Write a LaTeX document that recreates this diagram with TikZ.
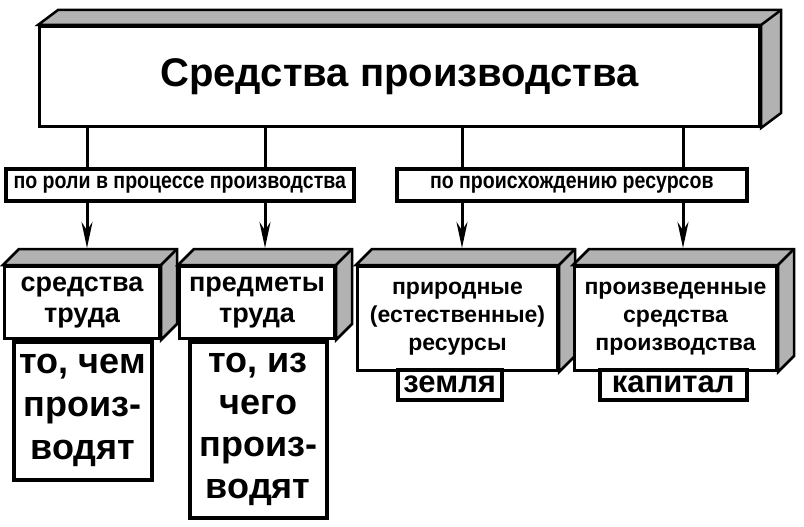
\documentclass[tikz,border=0pt]{standalone}
\usepackage{fontspec}
\setmainfont{Liberation Sans}
\usetikzlibrary{arrows.meta}
\tikzset{
		% front faces, labels and the 3d sides
		front box/.style={draw,line width=3pt,fill=white,inner sep=0pt,font=\bfseries},
		label box/.style={draw,line width=3.5pt,fill=white,inner sep=0pt},
		side face/.style={draw,line width=2.5pt,fill=gray!60,line join=miter},
		down arrow/.style={line width=3pt,-{Stealth[length=26pt,width=11pt]}}
	}
\newcommand{\sides}[3]{% node, dx, dy
	\draw[side face] (#1.north west) -- ++(#2,#3) -| ($(#1.south east)+(#2,#3)$) -- (#1.south east) -- (#1.north east) -- cycle;
	\draw[line width=2.5pt] (#1.north east) -- ++(#2,#3);}
\usetikzlibrary{calc}
\begin{document}
\begin{tikzpicture}[x=1pt,y=-1pt]
		\useasboundingbox (0,0) rectangle (804,527);
		% connectors first
		\coordinate (t1) at (87,125);
		\coordinate (t2) at (265,125);
		\coordinate (t3) at (462,125);
		\coordinate (t4) at (683,125);
		\foreach \i/\x in {1/87,2/265,3/462,4/683}
		\draw[down arrow] (t\i) -- (\x,248);
		% top box
		\node[front box,minimum width=720pt,minimum height=100pt,anchor=north west,font=\bfseries\fontsize{40}{44}\selectfont]
		(means) at (38,25) {Средства производства};
		\sides{means}{20}{-15}
		% labels
		\node[label box,minimum width=348pt,minimum height=32pt,anchor=north west] (role) at (4,167)
		{\bfseries\fontsize{23}{26}\selectfont\scalebox{0.85}[1]{по роли в процессе производства}};
		\node[label box,minimum width=350pt,minimum height=32pt,anchor=north west] (origin) at (395,167)
		{\bfseries\fontsize{23}{26}\selectfont\scalebox{0.85}[1]{по происхождению ресурсов}};
		% lower boxes
		\node[front box,minimum width=155pt,minimum height=72pt,anchor=north west,align=center,font=\bfseries\fontsize{27}{31}\selectfont]
		(tools) at (3,265) {средства\\труда};
		\sides{tools}{16}{-16}
		\node[front box,minimum width=155pt,minimum height=72pt,anchor=north west,align=center,font=\bfseries\fontsize{27}{31}\selectfont]
		(objects) at (178,265) {предметы\\труда};
		\sides{objects}{16}{-16}
		\node[front box,minimum width=200pt,minimum height=104pt,anchor=north west,align=center,font=\bfseries\fontsize{23}{28}\selectfont]
		(nature) at (356,265) {природные\\(естественные)\\ресурсы};
		\sides{nature}{16}{-16}
		\node[front box,minimum width=202pt,minimum height=104pt,anchor=north west,align=center,font=\bfseries\fontsize{23}{28}\selectfont]
		(made) at (573,265) {произведенные\\средства\\производства};
		\sides{made}{16}{-16}
		% explanations
		\node[label box,minimum width=138pt,minimum height=138pt,anchor=north west,align=center,font=\bfseries\fontsize{36}{43}\selectfont]
		(what) at (12,340) {то, чем\\произ-\\водят};
		\node[label box,minimum width=137pt,minimum height=176pt,anchor=north west,align=center,font=\bfseries\fontsize{36}{42}\selectfont]
		(whatof) at (188,340) {то, из\\чего\\произ-\\водят};
		\node[label box,minimum width=104pt,minimum height=30pt,anchor=north west,font=\bfseries\fontsize{31}{32}\selectfont]
		(land) at (396,368) {земля};
		\node[label box,minimum width=147pt,minimum height=30pt,anchor=north west,font=\bfseries\fontsize{31}{32}\selectfont]
		(capital) at (598,368) {капитал};
	\end{tikzpicture}
\end{document}
